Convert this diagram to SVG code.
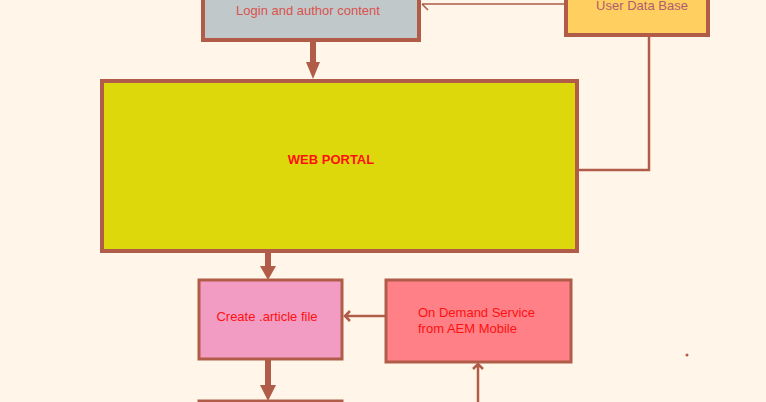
<svg xmlns="http://www.w3.org/2000/svg" width="766" height="402" viewBox="0 0 766 402">
<style>
.b{stroke:#B05C48;stroke-width:4}
.t{font-family:"Liberation Sans",Arial,sans-serif;font-size:13px;text-anchor:middle}
.s{text-anchor:start}
.c{stroke:#B05C48;fill:none}
</style>
<rect width="766" height="402" fill="#FFF6E9"/>
<g id="login"><rect x="203" y="-10" width="216" height="50" fill="#C0C8CA" class="b"/><text x="308" y="15" class="t" fill="#D9534F">Login and author content</text></g>
<g id="userdb"><rect x="566" y="-10" width="142" height="45" fill="#FFD060" class="b"/><text x="642" y="10" class="t" fill="#B05C70">User Data Base</text></g>
<g id="portal"><rect x="102" y="81" width="475" height="170" fill="#DDD80C" class="b"/><text x="331" y="164" class="t" fill="#FF1010" font-weight="bold" font-size="15">WEB PORTAL</text></g>
<g id="create"><rect x="199" y="280" width="143" height="79" fill="#F29CC3" stroke="#B05C48" stroke-width="3"/><text x="267" y="321" class="t" fill="#FF1010">Create .article file</text></g>
<g id="ondemand"><rect x="386" y="280" width="185" height="82" fill="#FF8087" stroke="#B05C48" stroke-width="3"/><text x="418" y="317" class="t s" fill="#FF1010"><tspan x="418">On Demand Service</tspan><tspan x="418" dy="16">from AEM Mobile</tspan></text></g>
<g id="bottom"><rect x="199" y="401" width="143" height="10" fill="#FFF6E9" stroke="#B05C48" stroke-width="3"/></g>
<g id="connectors">
<path d="M313 41V66" class="c" stroke-width="6"/><path d="M306 62L320 62L313 79Z" fill="#B05C48"/>
<path d="M566 4H422M422 4L428 10" class="c" stroke-width="1.5"/>
<path d="M649 36V170H578" class="c" stroke-width="2.5"/>
<path d="M268 252V268" class="c" stroke-width="6"/><path d="M260 266L276 266L268 280Z" fill="#B05C48"/>
<path d="M385 316H345M350 311L345 316L350 321" class="c" stroke-width="2.5"/>
<path d="M268 360V388" class="c" stroke-width="6"/><path d="M260 385L276 385L268 401Z" fill="#B05C48"/>
<path d="M478 402V364M473 369L478 364L483 369" class="c" stroke-width="2.5"/>
<circle cx="687" cy="355" r="1.5" fill="#B05C48"/>
</g>
</svg>
